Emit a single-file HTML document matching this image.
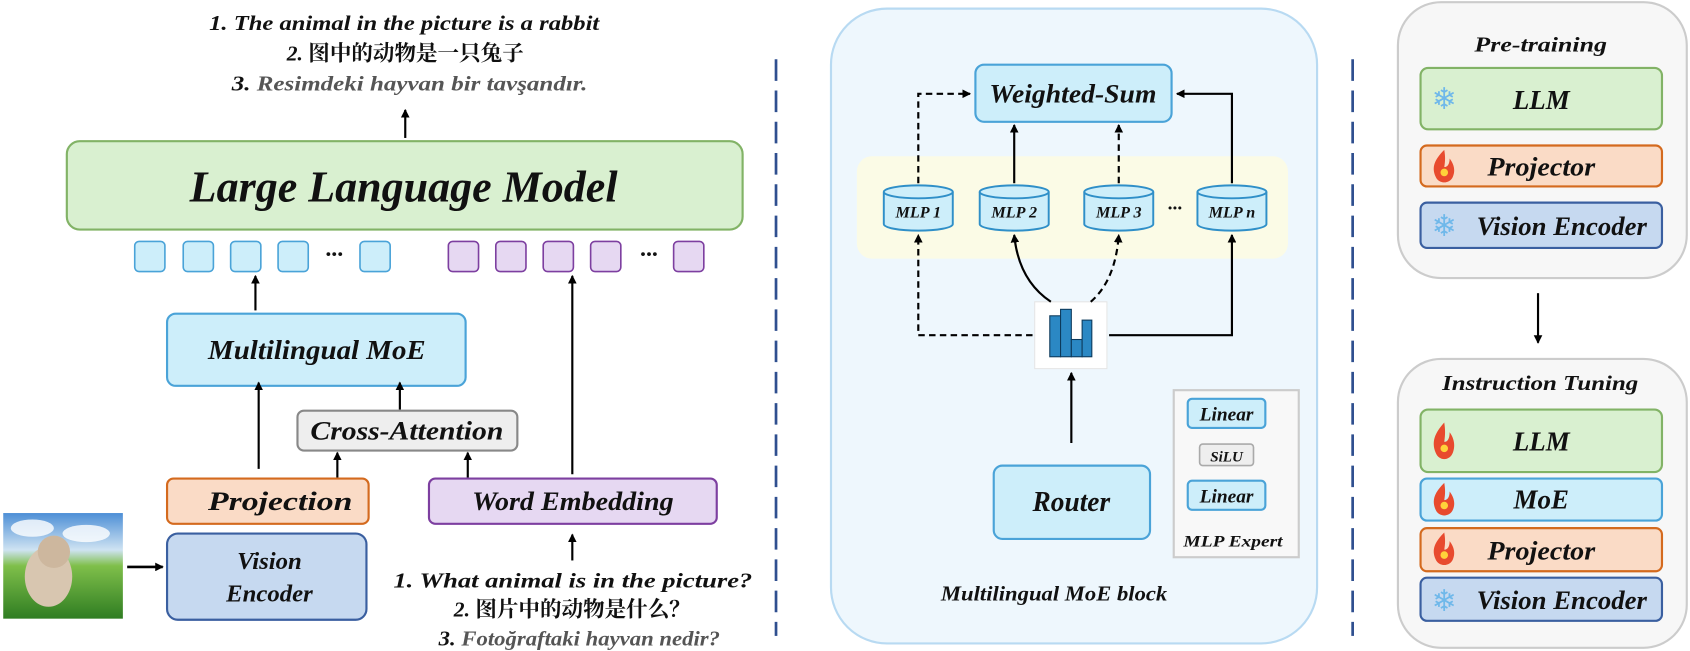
<!DOCTYPE html>
<html><head><meta charset="utf-8"><style>
html,body{margin:0;padding:0;background:#fff;}
svg{display:block}
text{font-family:"Liberation Serif","Noto Serif CJK SC",serif;font-style:italic;font-weight:bold;fill:#111;}
.cjk{font-family:"Liberation Serif","Noto Serif CJK SC",serif;font-style:normal;}
</style></head><body>
<svg width="1690" height="651" viewBox="0 0 1568 604" preserveAspectRatio="none" xmlns="http://www.w3.org/2000/svg">
<defs>
<marker id="ah" markerWidth="8" markerHeight="8" refX="7" refY="4" orient="auto" markerUnits="userSpaceOnUse"><path d="M0,0 L8,4 L0,8 z" fill="#000"/></marker>
<linearGradient id="sky" x1="0" y1="0" x2="0" y2="1"><stop offset="0" stop-color="#4d8fd6"/><stop offset="0.35" stop-color="#cfe3f2"/><stop offset="0.5" stop-color="#7fbf4a"/><stop offset="1" stop-color="#2f7d22"/></linearGradient>
</defs>
<!-- LEFT -->
<text x="194" y="28" font-size="20" textLength="362" lengthAdjust="spacingAndGlyphs">1. The animal in the picture is a rabbit</text>
<text x="376" y="56" font-size="20" text-anchor="middle"><tspan>2. </tspan><tspan class="cjk">图中的动物是一只兔子</tspan></text>
<text x="215" y="84" font-size="20" textLength="330" lengthAdjust="spacingAndGlyphs"><tspan>3. </tspan><tspan style="fill:#555">Resimdeki hayvan bir tavşandır.</tspan></text>
<line x1="376" y1="128" x2="376" y2="102" stroke="#000" stroke-width="2" marker-end="url(#ah)"/>
<rect x="62" y="131" width="627" height="82" rx="12" fill="#d9f0d0" stroke="#82b366" stroke-width="2"/>
<text x="176" y="187" font-size="41" textLength="397" lengthAdjust="spacingAndGlyphs">Large Language Model</text>
<g fill="#cdeefa" stroke="#4aa3d8" stroke-width="1.5">
<rect x="125" y="224" width="28" height="28" rx="4"/><rect x="170" y="224" width="28" height="28" rx="4"/><rect x="214" y="224" width="28" height="28" rx="4"/><rect x="258" y="224" width="28" height="28" rx="4"/><rect x="334" y="224" width="28" height="28" rx="4"/>
</g>
<g fill="#e6d8f2" stroke="#7d3fa0" stroke-width="1.5">
<rect x="416" y="224" width="28" height="28" rx="4"/><rect x="460" y="224" width="28" height="28" rx="4"/><rect x="504" y="224" width="28" height="28" rx="4"/><rect x="548" y="224" width="28" height="28" rx="4"/><rect x="625" y="224" width="28" height="28" rx="4"/>
</g>
<text x="310" y="243" font-size="22" text-anchor="middle">···</text>
<text x="602" y="243" font-size="22" text-anchor="middle">···</text>
<line x1="237" y1="288" x2="237" y2="256" stroke="#000" stroke-width="2" marker-end="url(#ah)"/>
<rect x="155" y="291" width="277" height="67" rx="8" fill="#cdeefa" stroke="#4aa3d8" stroke-width="2"/>
<text x="193" y="333" font-size="25" textLength="202" lengthAdjust="spacingAndGlyphs">Multilingual MoE</text>
<line x1="240" y1="435" x2="240" y2="355" stroke="#000" stroke-width="2" marker-end="url(#ah)"/>
<line x1="371" y1="380" x2="371" y2="355" stroke="#000" stroke-width="2" marker-end="url(#ah)"/>
<rect x="276" y="381" width="204" height="37" rx="6" fill="#eeeeee" stroke="#888" stroke-width="2"/>
<text x="288" y="408" font-size="24" textLength="179" lengthAdjust="spacingAndGlyphs">Cross-Attention</text>
<line x1="313" y1="443" x2="313" y2="420" stroke="#000" stroke-width="2" marker-end="url(#ah)"/>
<line x1="434" y1="443" x2="434" y2="420" stroke="#000" stroke-width="2" marker-end="url(#ah)"/>
<rect x="155" y="444" width="187" height="42" rx="6" fill="#fadbc6" stroke="#d46a1e" stroke-width="2"/>
<text x="193" y="473" font-size="24" textLength="134" lengthAdjust="spacingAndGlyphs">Projection</text>
<rect x="398" y="444" width="267" height="42" rx="6" fill="#e6d8f2" stroke="#7d3fa0" stroke-width="2"/>
<text x="438" y="473" font-size="24" textLength="187" lengthAdjust="spacingAndGlyphs">Word Embedding</text>
<line x1="531" y1="440" x2="531" y2="256" stroke="#000" stroke-width="2" marker-end="url(#ah)"/>
<rect x="155" y="495" width="185" height="80" rx="10" fill="#c6d9f0" stroke="#3a5fa0" stroke-width="2"/>
<text x="250" y="528" font-size="23" text-anchor="middle">Vision</text>
<text x="250" y="558" font-size="23" text-anchor="middle">Encoder</text>
<rect x="3" y="476" width="111" height="98" fill="url(#sky)"/>
<ellipse cx="30" cy="490" rx="20" ry="8" fill="#fff" opacity="0.8"/>
<ellipse cx="80" cy="495" rx="22" ry="8" fill="#fff" opacity="0.8"/>
<ellipse cx="45" cy="535" rx="22" ry="28" fill="#d8c6b0"/>
<ellipse cx="50" cy="512" rx="15" ry="15" fill="#cdb79e"/>
<line x1="118" y1="526" x2="151" y2="526" stroke="#000" stroke-width="2.5" marker-end="url(#ah)"/>
<line x1="531" y1="520" x2="531" y2="496" stroke="#000" stroke-width="2" marker-end="url(#ah)"/>
<text x="365" y="545" font-size="20" textLength="333" lengthAdjust="spacingAndGlyphs">1. What animal is in the picture?</text>
<text x="531" y="572" font-size="20" text-anchor="middle"><tspan>2. </tspan><tspan class="cjk">图片中的动物是什么？</tspan></text>
<text x="407" y="599" font-size="20" textLength="261" lengthAdjust="spacingAndGlyphs"><tspan>3. </tspan><tspan style="fill:#555">Fotoğraftaki hayvan nedir?</tspan></text>
<line x1="720" y1="55" x2="720" y2="590" stroke="#2f4f8f" stroke-width="2.5" stroke-dasharray="20,9"/>
<!-- MIDDLE -->
<rect x="771" y="8" width="451" height="589" rx="52" fill="#eef7fd" stroke="#b8daf2" stroke-width="2"/>
<rect x="795" y="145" width="400" height="95" rx="14" fill="#fbfbe6"/>
<rect x="905" y="60" width="182" height="53" rx="8" fill="#cdeefa" stroke="#4aa3d8" stroke-width="2"/>
<text x="918" y="95" font-size="24" textLength="155" lengthAdjust="spacingAndGlyphs">Weighted-Sum</text>
<g fill="#cdeefa" stroke="#2f8fc8" stroke-width="1.8">
<path d="M820,178 v30 a32,6 0 0 0 64,0 v-30"/><ellipse cx="852" cy="178" rx="32" ry="6"/>
<path d="M909,178 v30 a32,6 0 0 0 64,0 v-30"/><ellipse cx="941" cy="178" rx="32" ry="6"/>
<path d="M1006,178 v30 a32,6 0 0 0 64,0 v-30"/><ellipse cx="1038" cy="178" rx="32" ry="6"/>
<path d="M1111,178 v30 a32,6 0 0 0 64,0 v-30"/><ellipse cx="1143" cy="178" rx="32" ry="6"/>
</g>
<text x="852" y="202" font-size="15" text-anchor="middle">MLP 1</text>
<text x="941" y="202" font-size="15" text-anchor="middle">MLP 2</text>
<text x="1038" y="202" font-size="15" text-anchor="middle">MLP 3</text>
<text x="1143" y="202" font-size="15" text-anchor="middle">MLP n</text>
<text x="1090" y="199" font-size="18" text-anchor="middle">···</text>
<path d="M852,170 V87 H900" fill="none" stroke="#000" stroke-width="2" stroke-dasharray="6,4" marker-end="url(#ah)"/>
<line x1="941" y1="170" x2="941" y2="116" stroke="#000" stroke-width="2" marker-end="url(#ah)"/>
<line x1="1038" y1="170" x2="1038" y2="116" stroke="#000" stroke-width="2" stroke-dasharray="6,4" marker-end="url(#ah)"/>
<path d="M1143,170 V87 H1092" fill="none" stroke="#000" stroke-width="2" marker-end="url(#ah)"/>
<rect x="960" y="280" width="67" height="62" fill="#fff" stroke="#e6e6e6"/>
<g fill="#2b88c4" stroke="#0d3a5c" stroke-width="1"><rect x="974" y="293" width="10" height="38"/><rect x="984" y="287" width="10" height="44"/><rect x="994" y="315" width="10" height="16"/><rect x="1004" y="297" width="9" height="34"/></g>
<path d="M958,311 H852 V218" fill="none" stroke="#000" stroke-width="2" stroke-dasharray="6,4" marker-end="url(#ah)"/>
<path d="M1029,311 H1143 V218" fill="none" stroke="#000" stroke-width="2" marker-end="url(#ah)"/>
<path d="M975,280 Q945,260 941,218" fill="none" stroke="#000" stroke-width="2" marker-end="url(#ah)"/>
<path d="M1012,280 Q1035,260 1038,218" fill="none" stroke="#000" stroke-width="2" stroke-dasharray="6,4" marker-end="url(#ah)"/>
<line x1="994" y1="411" x2="994" y2="346" stroke="#000" stroke-width="2" marker-end="url(#ah)"/>
<rect x="922" y="432" width="145" height="68" rx="8" fill="#cdeefa" stroke="#4aa3d8" stroke-width="2"/>
<text x="958" y="474" font-size="26" textLength="72" lengthAdjust="spacingAndGlyphs">Router</text>
<rect x="1089" y="362" width="116" height="155" fill="#f8f8f8" stroke="#ccc" stroke-width="2"/>
<rect x="1102" y="370" width="72" height="27" rx="4" fill="#cdeefa" stroke="#4aa3d8" stroke-width="2"/>
<text x="1138" y="390" font-size="18" text-anchor="middle">Linear</text>
<rect x="1113" y="412" width="50" height="20" rx="3" fill="#eee" stroke="#aaa" stroke-width="1.5"/>
<text x="1138" y="428" font-size="14" text-anchor="middle">SiLU</text>
<rect x="1102" y="446" width="72" height="27" rx="4" fill="#cdeefa" stroke="#4aa3d8" stroke-width="2"/>
<text x="1138" y="466" font-size="18" text-anchor="middle">Linear</text>
<text x="1098" y="507" font-size="15" textLength="92" lengthAdjust="spacingAndGlyphs">MLP Expert</text>
<text x="873" y="557" font-size="20" textLength="210" lengthAdjust="spacingAndGlyphs">Multilingual MoE block</text>
<line x1="1255" y1="55" x2="1255" y2="590" stroke="#2f4f8f" stroke-width="2.5" stroke-dasharray="20,9"/>
<!-- RIGHT -->
<rect x="1297" y="2" width="268" height="256" rx="40" fill="#f7f7f7" stroke="#ccc" stroke-width="2"/>
<text x="1368" y="48" font-size="20" textLength="123" lengthAdjust="spacingAndGlyphs">Pre-training</text>
<rect x="1318" y="63" width="224" height="57" rx="7" fill="#d9f0d0" stroke="#82b366" stroke-width="2"/>
<text x="1430" y="101" font-size="25" text-anchor="middle">LLM</text>
<rect x="1318" y="135" width="224" height="38" rx="6" fill="#fadbc6" stroke="#d46a1e" stroke-width="2"/>
<text x="1380" y="163" font-size="24" textLength="100" lengthAdjust="spacingAndGlyphs">Projector</text>
<rect x="1318" y="188" width="224" height="42" rx="6" fill="#c6d9f0" stroke="#3a5fa0" stroke-width="2"/>
<text x="1370" y="218" font-size="24" textLength="158" lengthAdjust="spacingAndGlyphs">Vision Encoder</text>
<line x1="1427" y1="272" x2="1427" y2="318" stroke="#000" stroke-width="2" marker-end="url(#ah)"/>
<rect x="1297" y="333" width="268" height="268" rx="40" fill="#f7f7f7" stroke="#ccc" stroke-width="2"/>
<text x="1338" y="362" font-size="20" textLength="182" lengthAdjust="spacingAndGlyphs">Instruction Tuning</text>
<rect x="1318" y="380" width="224" height="58" rx="7" fill="#d9f0d0" stroke="#82b366" stroke-width="2"/>
<text x="1430" y="418" font-size="25" text-anchor="middle">LLM</text>
<rect x="1318" y="444" width="224" height="39" rx="6" fill="#cdeefa" stroke="#4aa3d8" stroke-width="2"/>
<text x="1430" y="472" font-size="25" text-anchor="middle">MoE</text>
<rect x="1318" y="490" width="224" height="40" rx="6" fill="#fadbc6" stroke="#d46a1e" stroke-width="2"/>
<text x="1380" y="519" font-size="24" textLength="100" lengthAdjust="spacingAndGlyphs">Projector</text>
<rect x="1318" y="536" width="224" height="40" rx="6" fill="#c6d9f0" stroke="#3a5fa0" stroke-width="2"/>
<text x="1370" y="565" font-size="24" textLength="158" lengthAdjust="spacingAndGlyphs">Vision Encoder</text>
<!-- icons -->
<g font-size="28">
<text x="1340" y="101" text-anchor="middle" style="fill:#6fb8ea;font-style:normal;font-weight:normal">❄</text>
<text x="1340" y="219" text-anchor="middle" style="fill:#6fb8ea;font-style:normal;font-weight:normal">❄</text>
<text x="1340" y="567" text-anchor="middle" style="fill:#6fb8ea;font-style:normal;font-weight:normal">❄</text>
</g>
<g>
<path d="M1340,139 c-9,9 -12,16 -8,25 c3,7 13,7 16,0 c3,-7 0,-13 -3,-17 c0,5 -2,8 -5,8 c1,-6 1,-10 0,-16z" fill="#e84a2e"/>
<path d="M1340,392 c-9,10 -12,18 -8,28 c3,8 13,8 16,0 c3,-8 0,-15 -3,-19 c0,6 -2,9 -5,9 c1,-7 1,-11 0,-18z" fill="#e84a2e"/>
<path d="M1340,448 c-9,9 -12,16 -8,25 c3,7 13,7 16,0 c3,-7 0,-13 -3,-17 c0,5 -2,8 -5,8 c1,-6 1,-10 0,-16z" fill="#e84a2e"/>
<path d="M1340,494 c-9,9 -12,16 -8,25 c3,7 13,7 16,0 c3,-7 0,-13 -3,-17 c0,5 -2,8 -5,8 c1,-6 1,-10 0,-16z" fill="#e84a2e"/>
<circle cx="1340" cy="160" r="3.5" fill="#ffd23a"/><circle cx="1340" cy="416" r="3.5" fill="#ffd23a"/><circle cx="1340" cy="469" r="3.5" fill="#ffd23a"/><circle cx="1340" cy="515" r="3.5" fill="#ffd23a"/>
</g>
</svg>
</body></html>
